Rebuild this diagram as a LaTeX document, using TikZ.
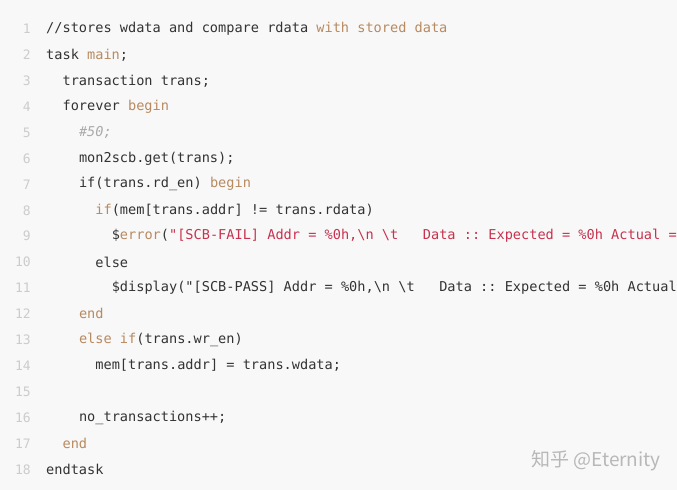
\documentclass[tikz,border=0pt]{standalone}
\usepackage{fontspec}
\setmonofont{DejaVu Sans Mono}
\newfontfamily\cjk{Noto Sans CJK SC}
\definecolor{bgc}{HTML}{F8F8F8}
\definecolor{txt}{HTML}{333333}
\definecolor{kw}{HTML}{B88A60}
\definecolor{str}{HTML}{C8324E}
\definecolor{cmt}{HTML}{AAAAAA}
\definecolor{lno}{HTML}{CCCCCC}
\newcommand{\K}[1]{\textcolor{kw}{#1}}
\newcommand{\Sr}[1]{\textcolor{str}{#1}}
\newcommand{\codeL}[3]{\node[codeline] (c#1) at ({46+#2*8.2},{490-29-(#1-1)*25.9}) {#3};}
\begin{document}
\begin{tikzpicture}[x=1pt,y=1pt,
  codeline/.style={anchor=west,inner sep=0pt,font=\ttfamily\fontsize{13.6}{14}\selectfont,text=txt},
  lnum/.style={anchor=east,inner sep=0pt,font=\ttfamily\fontsize{13}{14}\selectfont,text=lno}]
\fill[bgc] (0,0) rectangle (677,490);
\useasboundingbox (0,0) rectangle (677,490);
\begin{scope}
\clip (0,0) rectangle (677,490);
\foreach \i in {1,...,18}{
  \node[lnum] (n\i) at (31,{490-29-(\i-1)*25.9}) {\i};
}
\codeL{1}{0}{//stores wdata and compare rdata \K{with stored data}}
\codeL{2}{0}{task \K{main};}
\codeL{3}{2}{transaction trans;}
\codeL{4}{2}{forever \K{begin}}
\codeL{5}{4}{\textcolor{cmt}{\itshape\#50;}}
\codeL{6}{4}{mon2scb.get(trans);}
\codeL{7}{4}{if(trans.rd\_en) \K{begin}}
\codeL{8}{6}{\K{if}(mem[trans.addr] != trans.rdata)}
\codeL{9}{8}{\$\K{error}(\Sr{"[SCB-FAIL] Addr = \%0h,\textbackslash n \textbackslash t~~~Data :: Expected = \%0h Actual = \%0h"})}
\codeL{10}{6}{else}
\codeL{11}{8}{\$display("[SCB-PASS] Addr = \%0h,\textbackslash n \textbackslash t~~~Data :: Expected = \%0h Actual = \%0h")}
\codeL{12}{4}{\K{end}}
\codeL{13}{4}{\K{else if}(trans.wr\_en)}
\codeL{14}{6}{mem[trans.addr] = trans.wdata;}
\codeL{16}{4}{no\_transactions++;}
\codeL{17}{2}{\K{end}}
\codeL{18}{0}{endtask}
\end{scope}
\node[anchor=east,inner sep=0pt,text=black!28,font=\cjk\fontsize{19}{22}\selectfont] (wm) at (661,490-461) {知乎 @Eternity};
\end{tikzpicture}
\end{document}
